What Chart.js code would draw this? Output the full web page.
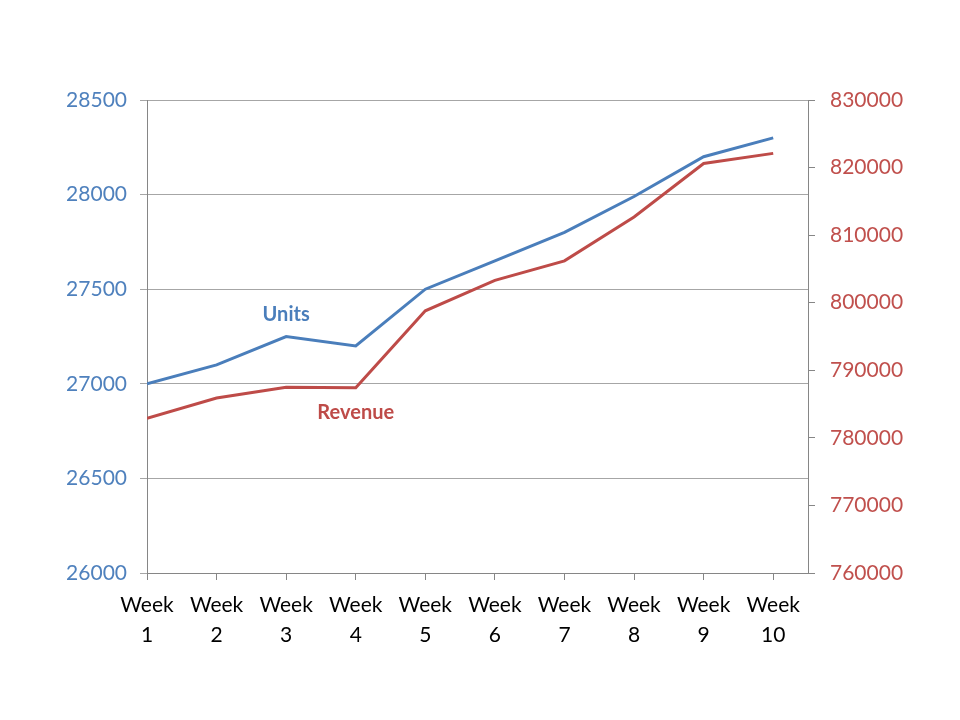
<!DOCTYPE html>
<html>
<head>
<meta charset="utf-8">
<script src="https://cdn.jsdelivr.net/npm/chart.js@4/dist/chart.umd.min.js"></script>
<style>
  html, body { margin: 0; padding: 0; background: #fff; }
  #wrap { width: 960px; height: 720px; }
</style>
</head>
<body>
<div id="wrap"><canvas id="weeklyChart" width="960" height="720"></canvas></div>
<script>
// chart data
const weeks = ['Week 1', 'Week 2', 'Week 3', 'Week 4', 'Week 5', 'Week 6', 'Week 7', 'Week 8', 'Week 9', 'Week 10'];
const units = [27000, 27100, 27250, 27200, 27500, 27650, 27800, 27990, 28200, 28300];
const revenue = [782900, 785900, 787500, 787400, 798800, 803300, 806200, 812700, 820600, 822100];
const seriesNames = ['Units', 'Revenue'];

const FONT = 'Lato, "Open Sans", sans-serif';
const BLUE = '#4A7EBB';
const RED = '#BE4B48';

// inline labels next to the lines instead of a legend
const seriesLabels = {
    id: 'seriesLabels',
    afterDatasetsDraw(chart) {
        const ctx = chart.ctx;
        const x = chart.scales.x;
        ctx.save();
        ctx.font = 'bold 20px ' + FONT;
        ctx.textAlign = 'center';
        ctx.textBaseline = 'middle';
        ctx.fillStyle = BLUE;
        ctx.fillText(seriesNames[0], x.getPixelForValue(3), chart.scales.y.getPixelForValue(27365));
        ctx.fillStyle = RED;
        ctx.fillText(seriesNames[1], x.getPixelForValue(4), chart.scales.y2.getPixelForValue(783700));
        ctx.restore();
    }
};

const ctx = document.getElementById('weeklyChart').getContext('2d');
new Chart(ctx, {
    type: 'line',
    data: {
        datasets: [{
            label: seriesNames[0],
            data: units.map((v, i) => ({ x: i + 1, y: v })),
            borderColor: BLUE,
            borderWidth: 3,
            pointRadius: 0,
            tension: 0,
            yAxisID: 'y'
        }, {
            label: seriesNames[1],
            data: revenue.map((v, i) => ({ x: i + 1, y: v })),
            borderColor: RED,
            borderWidth: 3,
            pointRadius: 0,
            tension: 0,
            yAxisID: 'y2'
        }]
    },
    options: {
        responsive: false,
        animation: false,
        devicePixelRatio: 1,
        layout: { padding: { top: 100, left: 0, right: 0, bottom: 0 } },
        plugins: {
            legend: { display: false },
            tooltip: { enabled: false }
        },
        scales: {
            x: {
                type: 'linear',
                min: 1,
                max: 10.5,
                // one tick per week, none at the padded right edge
                afterBuildTicks: s => { s.ticks = weeks.map((w, i) => ({ value: i + 1 })); },
                afterFit: s => { s.height = 147; },
                ticks: {
                    autoSkip: false,
                    maxRotation: 0,
                    padding: 11,
                    color: '#000',
                    font: { family: FONT, size: 21, lineHeight: 1.4 },
                    callback: v => weeks[v - 1] ? weeks[v - 1].split(' ') : ''
                },
                grid: { drawOnChartArea: false, tickLength: 7, color: '#868686' },
                border: { color: '#868686' }
            },
            y: {
                position: 'left',
                min: 26000,
                max: 28500,
                afterFit: s => { s.width = 147; },
                ticks: {
                    stepSize: 500,
                    padding: 13,
                    color: '#4F81BD',
                    font: { family: FONT, size: 21 },
                    callback: v => String(v)
                },
                grid: { tickLength: 7, color: '#A6A6A6' },
                border: { color: '#868686' }
            },
            y2: {
                position: 'right',
                min: 760000,
                max: 830000,
                afterFit: s => { s.width = 152; },
                ticks: {
                    stepSize: 10000,
                    padding: 15,
                    color: '#C0504D',
                    font: { family: FONT, size: 21 },
                    callback: v => String(v)
                },
                grid: { drawOnChartArea: false, tickLength: 7, color: '#868686' },
                border: { color: '#868686' }
            }
        }
    },
    plugins: [seriesLabels]
});
</script>
</body>
</html>
